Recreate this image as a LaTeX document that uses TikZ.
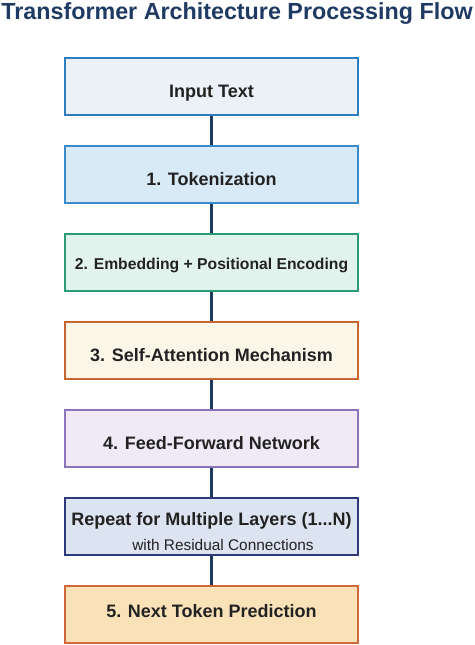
\documentclass[tikz,border=0pt]{standalone}
\usepackage{fontspec}
\setmainfont{Liberation Sans}
\usepackage{xcolor}
\usepackage{tikz}
\usetikzlibrary{positioning}

\definecolor{titleblue}{HTML}{1F3B64}
\definecolor{labelgray}{HTML}{222222}
\definecolor{linkblue}{HTML}{1E3A5F}
\definecolor{infill}{HTML}{EBF1F6}   \definecolor{inline}{HTML}{2F7DC1}
\definecolor{tokfill}{HTML}{D8EAF5}  \definecolor{tokline}{HTML}{3A8BCB}
\definecolor{embfill}{HTML}{E2F3EE}  \definecolor{embline}{HTML}{2A9C72}
\definecolor{attfill}{HTML}{FBF7E8}  \definecolor{attline}{HTML}{C7642F}
\definecolor{ffnfill}{HTML}{EFEAF5}  \definecolor{ffnline}{HTML}{8C74BA}
\definecolor{repfill}{HTML}{DCE3F1}  \definecolor{repline}{HTML}{2D3A7A}
\definecolor{predfill}{HTML}{FAE2B8} \definecolor{predline}{HTML}{D0683B}

\begin{document}
\begin{tikzpicture}[node distance=29pt,every node/.style={font=\fontsize{18pt}{21pt}\selectfont\bfseries,text=labelgray},
  box/.style={draw,line width=2pt,align=center,inner sep=4pt,minimum width=293pt,minimum height=57pt,text height=24pt,text depth=3pt},
  link/.style={draw=linkblue,line width=3pt}]
  \useasboundingbox (0,0) rectangle (474pt,-645pt);
  \node[box,draw=inline,fill=infill] (in) at (211.5pt,-86.5pt) {Input Text};
  \node[box,draw=tokline,fill=tokfill,below=of in] (tok) {1. Tokenization};
  \node[box,draw=embline,fill=embfill,below=of tok,font=\fontsize{15.7pt}{19pt}\selectfont\bfseries,text height=17pt] (emb) {2. Embedding + Positional Encoding};
  \node[box,draw=attline,fill=attfill,below=of emb] (att) {3. Self-Attention Mechanism};
  \node[box,draw=ffnline,fill=ffnfill,below=of att] (ffn) {4. Feed-Forward Network};
  \node[box,draw=repline,fill=repfill,below=of ffn,text height=47pt,text depth=0pt] (rep) {Repeat for Multiple Layers (1...N)\\[4pt]
    \hspace*{23pt}{\fontsize{15.4pt}{18pt}\selectfont\mdseries with Residual Connections}};
  \node[box,draw=predline,fill=predfill,below=of rep,text height=8pt] (pred) {5. Next Token Prediction};
  \draw[link] (in)--(tok); \draw[link] (tok)--(emb); \draw[link] (emb)--(att);
  \draw[link] (att)--(ffn); \draw[link] (ffn)--(rep); \draw[link] (rep)--(pred);
  \node[font=\fontsize{23.3pt}{27pt}\selectfont\bfseries,text=titleblue,inner sep=0pt,above=32pt of in,xshift=25.5pt] (title) {Transformer Architecture Processing Flow};
\end{tikzpicture}
\end{document}
